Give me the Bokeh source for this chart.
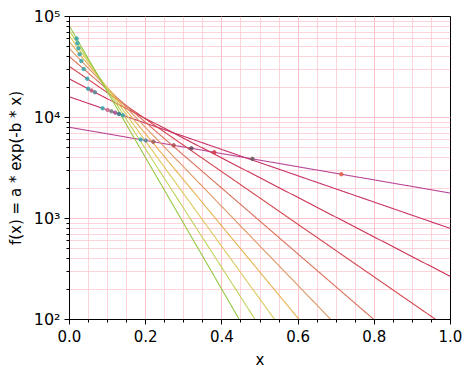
import numpy as np
from bokeh.plotting import figure
from bokeh.models import FixedTicker, CustomJSTickFormatter, ColumnDataSource
from bokeh.embed import file_html
from bokeh.resources import INLINE

# Parameters of f(x) = a * exp(-b * x)
a_vals = [8000, 16000, 24000, 32000, 40000, 48000, 56000, 64000, 72000, 80000]
b_vals = [1.5, 3.0, 4.5, 6.0, 7.5, 9.0, 10.5, 12.0, 13.5, 15.0]
line_colors = ["#b8479a", "#c6356a", "#cb3054", "#d2454f", "#d9705a",
               "#de9866", "#e6b24e", "#dcca5c", "#c0d35c", "#93c843"]

# data points: which curve they sit on and their position b*x along it
pt_curve = [0, 0, 0, 0, 0, 0, 0, 0,
            1, 1, 1, 1, 1, 1,
            2, 2, 2,
            3, 4, 5, 6, 7, 8, 9]
pt_t = [0.28, 0.30, 0.33, 0.41, 0.48, 0.57, 0.72, 1.07,
        0.26, 0.30, 0.33, 0.36, 0.39, 0.42,
        0.22, 0.26, 0.30,
        0.28, 0.28, 0.28, 0.28, 0.28, 0.28, 0.28]
pt_colors = ["#3aa6ac", "#6a8a98", "#a0605a", "#b05050", "#6a4a5a", "#d0404a", "#6a6060", "#e06048",
             "#3aa6ac", "#d07090", "#7a8088", "#a05a9a", "#3a7a8a", "#3aa6ac",
             "#3aa6ac", "#c06080", "#5a8a9a",
             "#3aa6ac", "#3aa6ac", "#3aa6ac", "#3aa6ac", "#3aa6ac", "#3aa6ac", "#3aa6ac"]

x_ticks = [0.0, 0.2, 0.4, 0.6, 0.8, 1.0]
x_minor = [i * 0.05 for i in range(21)]
y_ticks = [100, 1000, 10000, 100000]
y_minor = [m * 10 ** e for e in range(2, 5) for m in range(1, 10)] + [100000]

p = figure(width=474, height=377, x_range=(0, 1), y_range=(100, 1e5),
           y_axis_type="log", output_backend="svg", toolbar_location=None,
           min_border_left=69, min_border_right=24, min_border_top=16,
           min_border_bottom=58)

xs = np.linspace(0, 1, 400)
for a, b, c in zip(a_vals, b_vals, line_colors):
    p.line(xs, a * np.exp(-b * xs), line_color=c, line_width=1.1)

px = [pt_t[i] / b_vals[k] for i, k in enumerate(pt_curve)]
py = [a_vals[k] * np.exp(-pt_t[i]) for i, k in enumerate(pt_curve)]
src = ColumnDataSource(dict(x=px, y=py, c=pt_colors))
p.scatter("x", "y", source=src, size=3.5, fill_color="c", line_color="c", alpha=0.85)

font = "DejaVu Sans"
p.xaxis.ticker = FixedTicker(ticks=x_ticks, minor_ticks=x_minor)
p.yaxis.ticker = FixedTicker(ticks=y_ticks, minor_ticks=y_minor)
p.xaxis.formatter = CustomJSTickFormatter(code="return tick.toFixed(1);")
p.yaxis.formatter = CustomJSTickFormatter(code="""
const sup = {'0':'\u2070','1':'\u00b9','2':'\u00b2','3':'\u00b3','4':'\u2074','5':'\u2075','6':'\u2076','7':'\u2077','8':'\u2078','9':'\u2079'};
const e = Math.round(Math.log10(tick)).toString();
return '10' + e.split('').map(d => sup[d]).join('');
""")

for ax in (p.xaxis, p.yaxis):
    ax.axis_line_color = "black"
    ax.major_tick_line_color = "black"
    ax.minor_tick_line_color = "black"
    ax.major_tick_in = 0
    ax.major_tick_out = 5
    ax.minor_tick_in = 0
    ax.minor_tick_out = 3
    ax.major_label_text_font = font
    ax.major_label_text_font_size = "15px"
    ax.major_label_text_color = "black"
    ax.axis_label_text_font = font
    ax.axis_label_text_font_size = "15px"
    ax.axis_label_text_font_style = "normal"
    ax.axis_label_text_color = "black"

p.yaxis.major_label_text_font_size = "16px"
p.xaxis.axis_label = "x"
p.yaxis.axis_label = "f(x) = a * exp(-b * x)"
p.xaxis.major_label_standoff = 5
p.xaxis.axis_label_standoff = 6
p.yaxis.major_label_standoff = 4
p.yaxis.axis_label_standoff = 6

for g in (p.xgrid, p.ygrid):
    g.grid_line_color = "pink"
    g.grid_line_alpha = 0.9
    g.minor_grid_line_color = "pink"
    g.minor_grid_line_alpha = 0.7

p.outline_line_color = "black"
p.outline_line_width = 1
p.background_fill_color = "white"
p.border_fill_color = "white"

open("out.html", "w").write(file_html(p, INLINE))
